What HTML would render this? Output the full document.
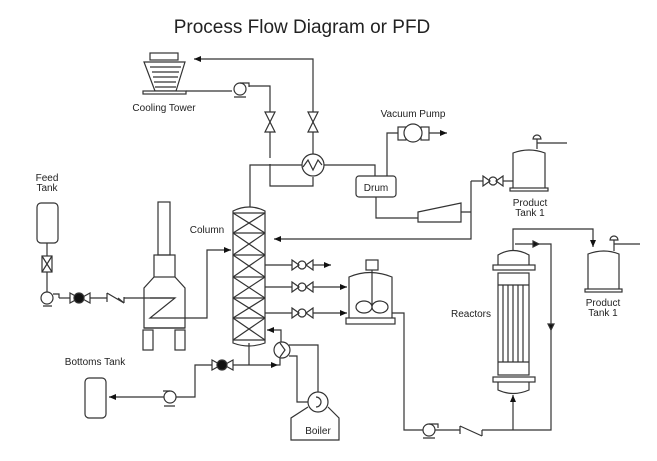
<!DOCTYPE html>
<html><head><meta charset="utf-8"><style>
html,body{margin:0;padding:0;background:#fff}
svg{display:block}
text{font-family:"Liberation Sans",Arial,sans-serif;fill:#222}
</style></head><body>
<svg width="657" height="461" viewBox="0 0 657 461" xmlns="http://www.w3.org/2000/svg">
<defs>
<marker id="a" markerWidth="8" markerHeight="8" refX="7" refY="4" orient="auto" markerUnits="userSpaceOnUse"><path d="M0,1 L7,4 L0,7 z" fill="#111"/></marker>
</defs>
<g fill="none" stroke="#333" stroke-width="1.2">
<text x="302" y="33" font-size="19" text-anchor="middle" stroke="none">Process Flow Diagram or PFD</text>

<!-- Cooling tower -->
<rect x="150" y="53" width="28" height="7" fill="#fff"/>
<path d="M144,62 L185,62 L176,91 L155,91 Z" fill="#fff"/>
<path d="M150,67h31 M152,72h27 M153,77h25 M154,82h22 M155,87h21"/>
<rect x="143" y="91" width="43" height="3" fill="#fff"/>
<text x="164" y="111" font-size="10" text-anchor="middle" stroke="none">Cooling Tower</text>
<path d="M313,112 V59 H194" marker-end="url(#a)"/>
<path d="M186,91 H232"/>
<circle cx="240" cy="89" r="6" fill="#fff"/><path d="M240,83 H249 V87 M234,97 h12"/>
<path d="M249,86 H270 V112"/>
<path d="M265,112 L275,112 L265,132 L275,132 Z M308,112 L318,112 L308,132 L318,132 Z"/>
<path d="M270,132 V158 M270,164 V186 H313 V177 M313,132 V154"/>
<circle cx="313" cy="165" r="11" fill="#fff"/>
<path d="M303,167 L308,160 L313,170 L318,160 L322,165"/>
<path d="M250,207 V165 H302 M324,165 H375 V176"/>

<!-- Drum / vacuum -->
<rect x="356" y="176" width="40" height="21" rx="3" fill="#fff"/>
<text x="376" y="191" font-size="10" text-anchor="middle" stroke="none">Drum</text>
<path d="M387,176 V133 H398"/>
<rect x="398" y="127" width="8" height="13"/><rect x="421" y="127" width="8" height="13"/>
<circle cx="413" cy="133" r="9" fill="#fff"/>
<path d="M429,133 H447" marker-end="url(#a)"/>
<text x="413" y="117" font-size="10" text-anchor="middle" stroke="none">Vacuum Pump</text>
<path d="M376,197 V218 H418"/>
<path d="M418,212 L461,203 L461,222 L418,222 Z" fill="#fff"/>
<path d="M461,212 H471 M471,181 V239 H274" marker-end="url(#a)"/>
<path d="M471,181 H483"/>
<path d="M483,176 L490,181 L483,186 Z M503,176 L496,181 L503,186 Z"/><circle cx="493" cy="181" r="4"/>
<path d="M503,181 H513"/>
<!-- Product tank 1 -->
<path d="M513,188 V153 Q529,147 545,153 V188" fill="#fff"/>
<rect x="510" y="188" width="38" height="3" fill="#fff"/>
<path d="M537,149 V139 M537,143 H567"/><path d="M533,139 A4,4 0 0 1 541,139 Z" fill="#fff"/>
<text x="530" y="206" font-size="10" text-anchor="middle" stroke="none">Product</text>
<text x="530" y="216" font-size="10" text-anchor="middle" stroke="none">Tank 1</text>

<!-- Feed tank -->
<text x="47" y="181" font-size="10" text-anchor="middle" stroke="none">Feed</text>
<text x="47" y="191" font-size="10" text-anchor="middle" stroke="none">Tank</text>
<rect x="37" y="203" width="21" height="40" rx="4" fill="#fff"/>
<path d="M47,243 V256"/><rect x="42" y="256" width="10" height="16"/><path d="M42,256 L52,272 M52,256 L42,272 M47,272 V292"/>
<circle cx="47" cy="298" r="6" fill="#fff"/><path d="M43,306 h9 M53,294 H59 V298"/>
<path d="M59,298 H70"/><path d="M70,293 L79,298 L70,303 Z M90,293 L81,298 L90,303 Z"/><circle cx="79" cy="298" r="5" fill="#111"/>
<path d="M90,298 H107 M107,293 V302 M107,293 L124,303 M124,297 V303" /><path d="M118,298 L124,303" />
<path d="M124,298 H175"/>
<!-- Heater -->
<rect x="158" y="202" width="12" height="53"/>
<rect x="154" y="255" width="21" height="22"/>
<path d="M154,277 L144,288 V328 H185 V288 L175,277"/>
<path d="M144,328 H185"/><rect x="143" y="330" width="10" height="20"/><rect x="175" y="330" width="10" height="20"/>
<path d="M150,298 H175 L150,318 H207 V250 H231" marker-end="url(#a)"/>
<text x="207" y="233" font-size="10" text-anchor="middle" stroke="none">Column</text>

<!-- Column -->
<path d="M233,343 V211 Q249,203 265,211 V343 Q249,349 233,343 Z" fill="#fff"/>
<path d="M233,213h32 M233,233h32 M233,255h32 M233,277h32 M233,298h32 M233,318h32 M233,340h32"/>
<path d="M233,213L265,233M265,213L233,233 M233,233L265,255M265,233L233,255 M233,255L265,277M265,255L233,277 M233,277L265,298M265,277L233,298 M233,298L265,318M265,298L233,318 M233,318L265,340M265,318L233,340"/>
<!-- side draws -->
<path d="M265,265 H292 M313,265 H331" marker-end="url(#a)"/>
<path d="M265,287 H292 M313,287 H347" marker-end="url(#a)"/>
<path d="M265,313 H292 M313,313 H347" marker-end="url(#a)"/>
<g>
<path d="M292,260 L299,265 L292,270 Z M313,260 L306,265 L313,270 Z"/><circle cx="302" cy="265" r="4"/>
<path d="M292,282 L299,287 L292,292 Z M313,282 L306,287 L313,292 Z"/><circle cx="302" cy="287" r="4"/>
<path d="M292,308 L299,313 L292,318 Z M313,308 L306,313 L313,318 Z"/><circle cx="302" cy="313" r="4"/>
</g>
<!-- Mixer -->
<rect x="366" y="260" width="12" height="10"/>
<path d="M349,318 V277 Q370,268 392,277 V318" fill="#fff"/>
<rect x="346" y="318" width="49" height="6" fill="#fff"/>
<path d="M372,270 V305"/><ellipse cx="364" cy="307" rx="8" ry="6"/><ellipse cx="380" cy="307" rx="8" ry="6"/>

<!-- Bottoms -->
<path d="M249,343 V365"/>
<path d="M233,365 H278" marker-end="url(#a)"/>
<path d="M278,365 H280 V357"/>
<path d="M212,360 L221,365 L212,370 Z M233,360 L224,365 L233,370 Z"/><circle cx="222" cy="365" r="5" fill="#111"/>
<path d="M212,365 H195 V397 H176"/>
<circle cx="170" cy="397" r="6" fill="#fff"/><path d="M163,391 H170 M164,406 h11"/>
<path d="M164,397 H109" marker-end="url(#a)"/>
<rect x="85" y="378" width="21" height="40" rx="4" fill="#fff"/>
<text x="95" y="365" font-size="10" text-anchor="middle" stroke="none">Bottoms Tank</text>
<!-- Reboiler -->
<circle cx="282" cy="350" r="8" fill="#fff"/><path d="M280,343 L285,350 L280,357"/>
<path d="M281,342 V330 H267" marker-end="url(#a)"/>
<path d="M289,345 H318 V392"/>
<path d="M289,356 H297 V402 H308"/>
<circle cx="318" cy="402" r="10" fill="#fff"/><path d="M316,397 A5,5 0 0 1 316,407"/>
<path d="M308,407 L291,418 V440 H339 V418 L328,407"/>
<text x="318" y="434" font-size="10" text-anchor="middle" stroke="none">Boiler</text>

<!-- Mixer outlet to reactors -->
<path d="M392,313 H404 V430 H424"/>
<circle cx="429" cy="430" r="6" fill="#fff"/><path d="M429,424 H438 V428 M423,438 h12"/>
<path d="M435,430 H460 M460,426 V434 M460,426 L482,436 M482,430 V436 M482,430 H551 V244 H515 M513,430 V395" marker-end="url(#a)"/>
<path d="M551,330 L548,324 L554,324 Z" fill="#111"/>
<path d="M539,244 L533,241 L533,247 Z" fill="#111"/>
<!-- Reactor -->
<path d="M498,265 V255 Q513,246 529,255 V265" fill="#fff"/>
<rect x="493" y="265" width="42" height="5" fill="#fff"/>
<rect x="498" y="273" width="31" height="102" fill="#fff"/>
<path d="M498,285 H529 M498,362 H529 M503,285 V362 M508,285 V362 M513,285 V362 M518,285 V362 M523,285 V362"/>
<rect x="493" y="377" width="42" height="5" fill="#fff"/>
<path d="M498,382 V390 Q513,397 529,390 V382"/>
<path d="M513,250 V229 H593 V247" marker-end="url(#a)"/>
<text x="471" y="317" font-size="10" text-anchor="middle" stroke="none">Reactors</text>
<!-- Product tank 2 -->
<path d="M588,290 V254 Q604,248 619,254 V290" fill="#fff"/>
<rect x="585" y="289" width="37" height="3" fill="#fff"/>
<path d="M614,251 V240 M614,244 H640"/><path d="M610,240 A4,4 0 0 1 618,240 Z" fill="#fff"/>
<text x="603" y="306" font-size="10" text-anchor="middle" stroke="none">Product</text>
<text x="603" y="316" font-size="10" text-anchor="middle" stroke="none">Tank 1</text>
</g>
</svg>
</body></html>
